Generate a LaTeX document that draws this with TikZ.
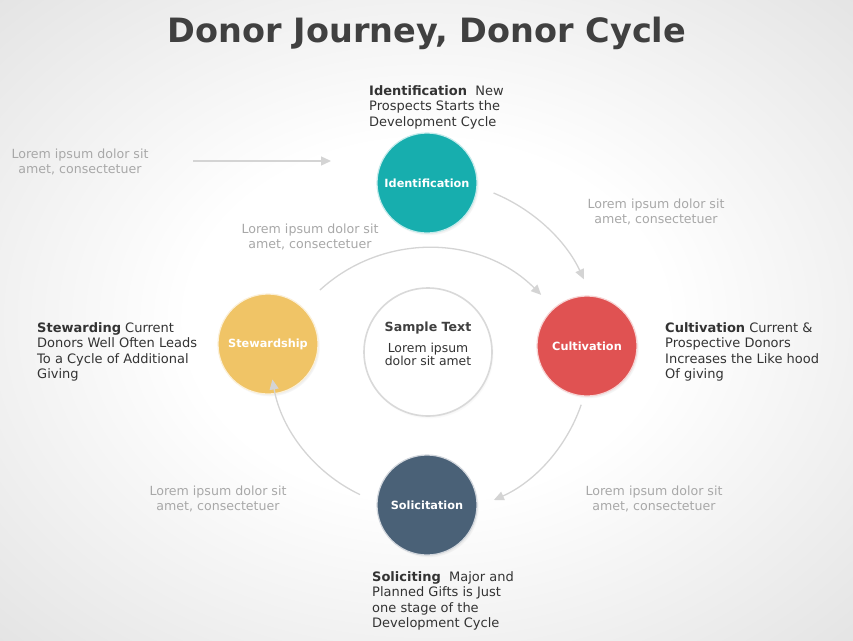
\documentclass[tikz,border=0pt]{standalone}
\usepackage{fontspec}
\setmainfont{DejaVu Sans}
\usetikzlibrary{arrows.meta,shadows,calc}
\definecolor{bgedge}{HTML}{D2D2D2}
\definecolor{teal1}{HTML}{17AEAE}
\definecolor{red1}{HTML}{E05252}
\definecolor{yel1}{HTML}{F0C466}
\definecolor{slate1}{HTML}{4A6177}
\definecolor{arrgray}{HTML}{D4D4D4}
\definecolor{loremgray}{HTML}{A8A8A8}
\definecolor{titlegray}{HTML}{404040}
\definecolor{desc}{HTML}{333333}
\pgfdeclareradialshading{bgshade}{\pgfpoint{0bp}{0bp}}{color(0bp)=(white); color(14bp)=(white); color(50bp)=(bgedge); color(80bp)=(bgedge)}
\tikzset{
  stage/.style={circle, minimum size=100pt, inner sep=0pt, fill=#1, draw=white!75!#1, line width=1.2pt,
    text=white, font=\fontsize{11.3}{13}\selectfont\bfseries,
    circular drop shadow={shadow xshift=1.5pt, shadow yshift=-2pt, opacity=0.35, shadow scale=1.01}},
  hub/.style={circle, minimum size=128pt, inner sep=0pt, fill=white, draw=black!15, line width=1.6pt,
    circular drop shadow={shadow xshift=1pt, shadow yshift=-2pt, opacity=0.25, shadow scale=1.01}},
  lorem/.style={align=center, text=loremgray, font=\fontsize{12.6}{14.5}\selectfont, inner sep=0pt},
  descr/.style={align=left, anchor=north west, text=desc, font=\fontsize{13}{15.6}\selectfont, inner sep=0pt},
  flow/.style={draw=arrgray, line width=1.3pt, -{Triangle[width=9pt,length=10pt]}},
}
\begin{document}
\begin{tikzpicture}[x=1pt,y=-1pt]
\useasboundingbox (0,0) rectangle (853,640);
\shade[shading=bgshade] (0,0) rectangle (853,640);

\node[font=\fontsize{33.5}{38}\selectfont\bfseries, text=titlegray] (title) at (427,33) {Donor Journey, Donor Cycle};

% circles
\node[hub] (hub) at (428,352) {};
\node[align=center, inner sep=0pt] (hubtxt) at (428,344) {{\fontsize{12.6}{15}\selectfont\bfseries\color{titlegray}Sample Text}\\[8pt]{\fontsize{12.4}{14.5}\selectfont\color{desc}Lorem ipsum}\\{\fontsize{12.4}{14.5}\selectfont\color{desc}dolor sit amet}};
\node[stage=teal1] (ident) at (427,183) {Identification};
\node[stage=red1] (cult) at (587,346) {Cultivation};
\node[stage=yel1] (stew) at (268,344) {Stewardship};
\node[stage=slate1] (soli) at (427,505) {Solicitation};

% arrows
\coordinate (s0) at (193,161);
\coordinate (e0) at (331,161);
\draw[flow] (s0) -- (e0);
\coordinate (c1) at (428,352);
\coordinate (a1) at ($(c1)+(-67.6:172)$);
\draw[flow] (a1) arc[start angle=-67.6, end angle=-25, radius=172];
\coordinate (a2) at ($(c1)+(19:162)$);
\draw[flow] (a2) arc[start angle=19, end angle=66, radius=162];
\coordinate (a3) at ($(c1)+(115.5:158)$);
\draw[flow] (a3) arc[start angle=115.5, end angle=170, radius=158];
\coordinate (c2) at (428,408);
\coordinate (a4) at ($(c2)+(-132.5:160)$);
\draw[flow] (a4) arc[start angle=-132.5, end angle=-45, radius=160];

% lorem labels
\node[lorem] (l1) at (80,162) {Lorem ipsum dolor sit\\amet, consectetuer};
\node[lorem] (l2) at (656,212) {Lorem ipsum dolor sit\\amet, consectetuer};
\node[lorem] (l3) at (310,237) {Lorem ipsum dolor sit\\amet, consectetuer};
\node[lorem] (l4) at (218,499) {Lorem ipsum dolor sit\\amet, consectetuer};
\node[lorem] (l5) at (654,499) {Lorem ipsum dolor sit\\amet, consectetuer};

% descriptions
\node[descr] (d1) at (369,85) {\textbf{Identification}\ \ New\\Prospects Starts the\\Development Cycle};
\node[descr] (d2) at (37,322) {\textbf{Stewarding} Current\\Donors Well Often Leads\\To a Cycle of Additional\\Giving};
\node[descr] (d3) at (665,322) {\textbf{Cultivation} Current \&\\Prospective Donors\\Increases the Like hood\\Of giving};
\node[descr] (d4) at (372,571) {\textbf{Soliciting}\ \ Major and\\Planned Gifts is Just\\one stage of the\\Development Cycle};
\end{tikzpicture}
\end{document}
